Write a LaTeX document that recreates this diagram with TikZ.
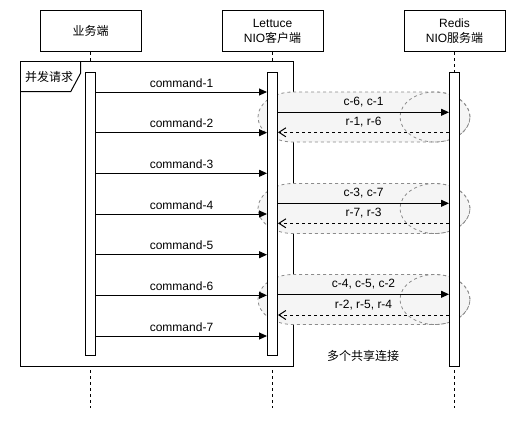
\documentclass[tikz,border=0pt]{standalone}
\usepackage{fontspec}
\setmainfont{Liberation Sans}
\newfontfamily\cjk{Noto Sans CJK SC}
\usetikzlibrary{arrows.meta}
\definecolor{pipefill}{HTML}{f5f5f5}
\definecolor{pipeline}{HTML}{8c8c8c}

\begin{document}
\begin{tikzpicture}[
        font = \fontsize{12pt}{15pt}\selectfont,
        actor/.style = {draw, line width = 1pt, minimum width = 101pt, minimum height = 41pt, align = center, inner sep = 0pt},
        bar/.style = {draw, line width = 1pt, fill = white, minimum width = 10pt, inner sep = 0pt},
        life/.style = {line width = 1pt, dash pattern = on 3pt off 3pt},
        msg/.style = {line width = 1pt, -{Triangle[length = 8pt, width = 7pt]}},
        reply/.style = {line width = 1pt, dash pattern = on 3pt off 3pt, -{Straight Barb[length = 7pt, width = 9pt]}},
        pipe/.style = {line width = 0.8pt, draw = pipeline, fill = pipefill, dash pattern = on 3pt off 3pt}
    ]
        \useasboundingbox (0pt, 0pt) rectangle (518pt, -420pt);

        % Actors
        \node [actor] (biz) at (90.5pt, -31pt) {{\cjk 业务端}};
        \node [actor] (clt) at (272.5pt, -31pt) {Lettuce\\NIO{\cjk 客户端}};
        \node [actor] (srv) at (454.5pt, -31pt) {Redis\\NIO{\cjk 服务端}};

        % Lifelines
        \coordinate (bizend) at (90.5pt, -408pt);
        \coordinate (cltend) at (272.5pt, -408pt);
        \coordinate (srvend) at (454.5pt, -408pt);
        \draw [life] (biz.south) -- (bizend);
        \draw [life] (clt.south) -- (cltend);
        \draw [life] (srv.south) -- (srvend);

        % Frame
        \draw [line width = 1pt, fill = white] (20pt, -61pt) rectangle (293pt, -366pt);
        \draw [line width = 1pt] (20pt, -91.7pt) -- (70.7pt, -91.7pt) -- (80.7pt, -73pt) -- (80.7pt, -61pt);
        \node (frame) at (49pt, -77pt) {\cjk 并发请求};

        % Connections
        \foreach \t/\m/\b in {92/117/142, 183.5/208.5/233.5, 274.5/299.5/324.5} {
            \filldraw [pipe] (293pt, -\t pt) -- (435pt, -\t pt)
                arc [start angle = 90, end angle = -90, x radius = 35pt, y radius = 25pt]
                -- (293pt, -\b pt)
                arc [start angle = 270, end angle = 90, x radius = 35pt, y radius = 25pt] -- cycle;
            \draw [pipe, fill = none] (435pt, -\m pt) ellipse [x radius = 35pt, y radius = 25pt];
        }

        % Activations
        \node [bar, minimum height = 283pt] (bizbar) at (90.5pt, -213.5pt) {};
        \node [bar, minimum height = 283pt] (cltbar) at (272.5pt, -213.5pt) {};
        \node [bar, minimum height = 294pt] (srvbar) at (454.5pt, -219pt) {};

        % Commands
        \foreach \i/\y in {1/92, 2/132.7, 3/173.3, 4/214, 5/254.7, 6/295.3, 7/336} {
            \coordinate (cmd\i) at (0pt, -\y pt);
            \draw [msg] (bizbar.east |- cmd\i) -- node [above = 1pt] {command-\i} (cltbar.west |- cmd\i);
        }

        % Requests and replies
        \foreach \i/\req/\rep/\y/\z in {1/{c-6, c-1}/{r-1, r-6}/112.3/132.3, 2/{c-3, c-7}/{r-7, r-3}/203.3/223.3, 3/{c-4, c-5, c-2}/{r-2, r-5, r-4}/294.3/315} {
            \coordinate (req\i) at (0pt, -\y pt);
            \coordinate (rep\i) at (0pt, -\z pt);
            \draw [msg] (cltbar.east |- req\i) -- node [above = 1pt] {\req} (srvbar.west |- req\i);
            \draw [reply] (srvbar.west |- rep\i) -- node [above = 1pt] {\rep} (cltbar.east |- rep\i);
        }

        % Note
        \node (note) at (363pt, -356pt) {\cjk 多个共享连接};

    \end{tikzpicture}
\end{document}
